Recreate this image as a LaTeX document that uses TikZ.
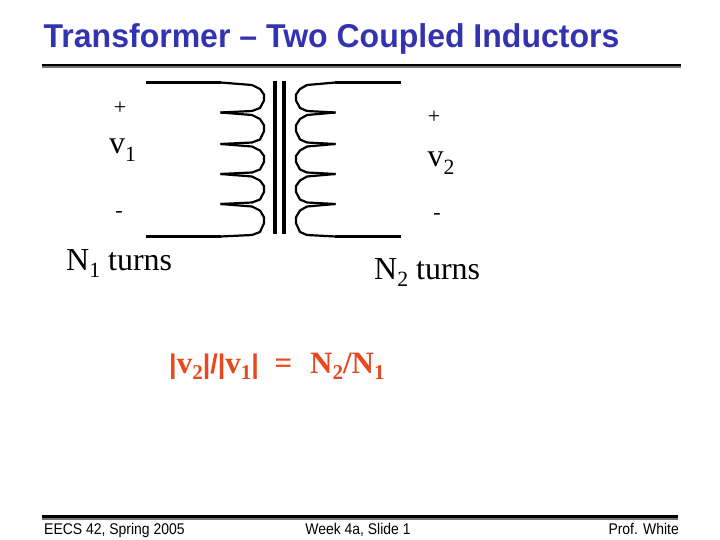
\documentclass[tikz,border=0pt]{standalone}
\usepackage{fontspec}
\setmainfont{Liberation Serif}
\setsansfont{Liberation Sans}
\definecolor{titleblue}{HTML}{3333B2}
\definecolor{eqred}{HTML}{E8481C}
\newcommand{\sbs}[1]{\raisebox{-0.22em}{\fontsize{0.68em}{0.68em}\selectfont #1}}
\tikzset{
  lbl/.style={inner sep=0pt,anchor=base,font=\fontsize{32}{32}\selectfont},
  sgn/.style={inner sep=0pt,anchor=base,font=\fontsize{22}{22}\selectfont},
  coilline/.style={line width=2.2pt,line join=round},
  lead/.style={line width=2.6pt},
  corebar/.style={line width=4pt},
  foot/.style={inner sep=0pt,anchor=base},
}
\newcommand{\ftxt}[1]{\sffamily\fontsize{15.5}{16}\selectfont\scalebox{0.9}[1]{#1}}
\newcommand{\bartxt}[1]{{\sffamily\fontsize{27}{27}\selectfont\bfseries #1}}
\begin{document}
\begin{tikzpicture}[x=1pt,y=-1pt]
\useasboundingbox (0,0) rectangle (720,540);
\fill[white] (0,0) rectangle (720,540);
% title
\node[inner sep=0pt,anchor=base west,text=titleblue] (title) at (43.5,47.5) {\sffamily\bfseries\fontsize{33}{33}\selectfont\scalebox{0.97}[1]{Transformer -- Two Coupled Inductors}};
\fill[black] (42,64) rectangle (681,66.5);
\fill[black!55] (42,66.5) rectangle (681,68);
% transformer
\draw[lead] (146,82.5) -- (221,82.5);
\draw[lead] (146,236.5) -- (221,236.5);
\draw[lead] (335,82.5) -- (401,82.5);
\draw[lead] (335,236.5) -- (401,236.5);
\draw[corebar] (275,81) -- (275,234);
\draw[corebar] (284,81) -- (284,234);
\foreach \a/\b in {82.5/112.5,112.5/144,144/174,174/204,204/236.5}{
  \draw[coilline] (220.5,\a) -- (252,\a+2.5) -- (260,\a+6.5) -- (264,{\a+(\b-\a)/2-3}) -- (264,{\a+(\b-\a)/2+3}) -- (260,\b-4.5) -- (252,\b-1.5) -- (220.5,\b);
  \draw[coilline] (335.5,\a) -- (307,\a+2.5) -- (300,\a+6.5) -- (296,{\a+(\b-\a)/2-3}) -- (296,{\a+(\b-\a)/2+3}) -- (300,\b-4.5) -- (307,\b-1.5) -- (335.5,\b);
}
% labels
\node[sgn] (p1) at (120,115) {+};
\node[lbl] (v1) at (122.5,154) {v\sbs{1}};
\node[sgn] (m1) at (119,218) {-};
\node[sgn] (p2) at (434,124) {+};
\node[lbl] (v2) at (441,167) {v\sbs{2}};
\node[sgn] (m2) at (437,219) {-};
\node[lbl,anchor=base west] (n1) at (66,270) {N\sbs{1} turns};
\node[lbl,anchor=base west] (n2) at (374,279) {N\sbs{2} turns};
% equation
\node[inner sep=0pt,anchor=base west,text=eqred] (eq) at (169,373) {\fontsize{31}{31}\selectfont\bfseries \bartxt{|}v\sbs{2}\bartxt{|/|}v\sbs{1}\bartxt{|}\ \ =\ \ \hspace{2.5pt}N\sbs{2}/N\sbs{1}};
% footer
\fill[black] (42,515) rectangle (678,518);
\fill[black!55] (42,518) rectangle (678,519.5);
\node[foot,anchor=base west] (f1) at (44,534) {\ftxt{EECS 42, Spring 2005}};
\node[foot] (f2) at (358,534) {\ftxt{Week 4a, Slide 1}};
\node[foot,anchor=base east] (f3) at (679,534) {\ftxt{Prof. White}};
\end{tikzpicture}
\end{document}
